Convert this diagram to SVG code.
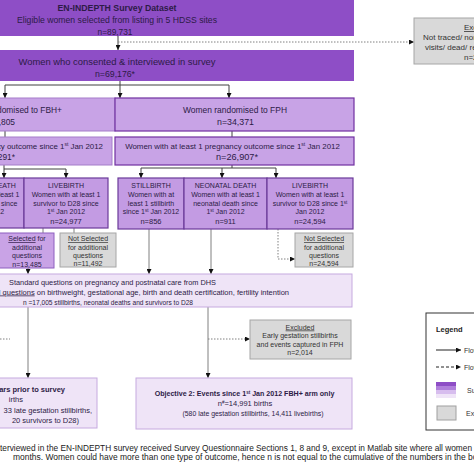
<svg xmlns="http://www.w3.org/2000/svg" width="474" height="474" viewBox="0 0 474 474">
<defs>
<style>
text{font-family:"Liberation Sans",Arial,sans-serif;fill:#2d1b46}
.c{text-anchor:middle}
.e{text-anchor:end}
.b{font-weight:bold}
.dark{fill:#8e4ec6}
.mid{fill:#c8a3e6;stroke:#7030a0;stroke-width:1.2}
.midl{fill:#c8a3e6;stroke:#a57cc9;stroke-width:1}
.sub{fill:#c39be3;stroke:#6b3a99;stroke-width:1.2}
.light{fill:#efe4f7;stroke:#c6aadf;stroke-width:1}
.grey{fill:#d9d9d9;stroke:#a6a6a6;stroke-width:1}
.grey-t{fill:#333}
.f7{font-size:7px}
.f75{font-size:7.5px}
.f79{font-size:7.9px}
.f8{font-size:8px}
.f85{font-size:8.4px}
.f9{font-size:9px}
.ln{fill:none;stroke:#404040;stroke-width:1}
.lg{fill:none;stroke:#808080;stroke-width:1}
.dot{fill:none;stroke:#808080;stroke-width:1;stroke-dasharray:1.5,1.5}
.u{text-decoration:underline}
</style>
<marker id="ah" viewBox="0 0 6 6" refX="6" refY="3" markerWidth="5" markerHeight="5" markerUnits="userSpaceOnUse" orient="auto">
<path d="M0,0 L6,3 L0,6 z" fill="#111"/>
</marker>
</defs>
<rect x="0" y="0" width="474" height="474" fill="#ffffff"/>

<g id="connectors">
<path class="ln" d="M118 36 V50" marker-end="url(#ah)"/>
<path class="dot" d="M118 42 H414" marker-end="url(#ah)"/>
<path class="ln" d="M120 81 V98" marker-end="url(#ah)"/>
<path class="ln" d="M5 85 H229"/>
<path class="ln" d="M5 85 V98" marker-end="url(#ah)"/>
<path class="ln" d="M229 85 V98" marker-end="url(#ah)"/>
<path class="ln" d="M5 131 V137"/>
<path class="ln" d="M232 131 V137"/>
<path class="ln" d="M4 165 V169 H66"/>
<path class="ln" d="M4 169 V178" marker-end="url(#ah)"/>
<path class="ln" d="M66 169 V178" marker-end="url(#ah)"/>
<path class="ln" d="M232 165 V168"/>
<path class="ln" d="M141 168 H276"/>
<path class="ln" d="M141 168 V178" marker-end="url(#ah)"/>
<path class="ln" d="M222 168 V178" marker-end="url(#ah)"/>
<path class="ln" d="M276 168 V178" marker-end="url(#ah)"/>
<path class="lg" d="M43 228 V233"/>
<path class="lg" d="M74 228 V233"/>
<path class="dot" d="M278 229 V259 H295" marker-end="url(#ah)"/>
<path class="lg" d="M28 268 V274" marker-end="url(#ah)"/>
<path class="lg" d="M149 229 V274" marker-end="url(#ah)"/>
<path class="lg" d="M211 229 V274" marker-end="url(#ah)"/>
<path class="lg" d="M28 307 V378" marker-end="url(#ah)"/>
<path class="lg" d="M208 307 V378" marker-end="url(#ah)"/>
<path class="dot" d="M208 339 H250" marker-end="url(#ah)"/>
<path class="dot" d="M0 339 H10"/>
</g>

<g id="dataset">
<rect class="dark" x="-130" y="-4" width="484" height="40"/>
<text class="c b f9" x="117" y="10.5" textLength="119" lengthAdjust="spacingAndGlyphs">EN-INDEPTH Survey Dataset</text>
<text class="c f9" x="117" y="22.5" textLength="200" lengthAdjust="spacingAndGlyphs">Eligible women selected from listing in 5 HDSS sites</text>
<text class="c f9" x="115" y="34.5" textLength="35" lengthAdjust="spacingAndGlyphs">n=89,731</text>
</g>

<g id="excluded-1">
<rect class="grey" x="414" y="18" width="120" height="46"/>
<text class="f8 grey-t u" x="464" y="30">Excluded</text>
<text class="f8 grey-t" x="423" y="40">Not traced/ non-response after 3</text>
<text class="f8 grey-t" x="425" y="50">visits/ dead/ refused</text>
<text class="f8 grey-t" x="464" y="60">n=20,555</text>
</g>

<g id="consented">
<rect class="dark" x="-130" y="50" width="484" height="31"/>
<text class="c f9" x="117" y="64.5" textLength="197" lengthAdjust="spacingAndGlyphs">Women who consented &amp; interviewed in survey</text>
<text class="c f9" x="115" y="76.5" textLength="40" lengthAdjust="spacingAndGlyphs">n=69,176*</text>
</g>

<g id="fbh">
<rect class="midl" x="-130" y="98" width="245" height="33"/>
<text class="e f85" x="62" y="113">Women randomised to FBH+</text>
<text class="e f85" x="15" y="124.5">n=34,805</text>
</g>

<g id="fph">
<rect class="mid" x="115" y="98" width="239" height="33"/>
<text class="c f85" x="235" y="113" textLength="104" lengthAdjust="spacingAndGlyphs">Women randomised to FPH</text>
<text class="c f85" x="235.5" y="124.5" textLength="37" lengthAdjust="spacingAndGlyphs">n=34,371</text>
</g>

<g id="fbh-pregnancy">
<rect class="midl" x="-130" y="137" width="242" height="28"/>
<text class="e f79" x="103" y="149">Women with at least 1 pregnancy outcome since 1<tspan font-size="5" baseline-shift="3">st</tspan> Jan 2012</text>
<text class="e f85" x="15" y="160">291*</text>
</g>

<g id="fph-pregnancy">
<rect class="mid" x="115" y="137" width="239" height="28"/>
<text class="c f79" x="232.5" y="149">Women with at least 1 pregnancy outcome since 1<tspan font-size="5" baseline-shift="3">st</tspan> Jan 2012</text>
<text class="c f85" x="237" y="160" textLength="42" lengthAdjust="spacingAndGlyphs">n=26,907*</text>
</g>

<g id="fbh-neonatal">
<rect class="sub" x="-60" y="178" width="84" height="50"/>
<text class="c f7" x="-15" y="188">NEONATAL DEATH</text>
<text class="c f7" x="-15" y="197">Women with at least 1</text>
<text class="c f7" x="-15" y="205.5">neonatal death since</text>
<text class="c f7" x="-15" y="214">1<tspan font-size="4.5" baseline-shift="2.5">st</tspan> Jan 2012</text>
</g>

<g id="fbh-livebirth">
<rect class="sub" x="24" y="178" width="84" height="50"/>
<text class="c f7" x="66" y="188">LIVEBIRTH</text>
<text class="c f7" x="66" y="197">Women with at least 1</text>
<text class="c f7" x="66" y="205.5">survivor to D28 since</text>
<text class="c f7" x="66" y="214">1<tspan font-size="4.5" baseline-shift="2.5">st</tspan> Jan 2012</text>
<text class="c f75" x="66" y="224">n=24,977</text>
</g>

<g id="fph-stillbirth">
<rect class="sub" x="118" y="178" width="66" height="51"/>
<text class="c f7" x="151" y="188">STILLBIRTH</text>
<text class="c f7" x="151" y="197">Women with at</text>
<text class="c f7" x="151" y="205.5">least 1 stillbirth</text>
<text class="c f7" x="151" y="214">since 1<tspan font-size="4.5" baseline-shift="2.5">st</tspan> Jan 2012</text>
<text class="c f75" x="151" y="224">n=856</text>
</g>

<g id="fph-neonatal">
<rect class="sub" x="184" y="178" width="83" height="51"/>
<text class="c f7" x="225.5" y="188">NEONATAL DEATH</text>
<text class="c f7" x="225.5" y="197">Women with at least 1</text>
<text class="c f7" x="225.5" y="205.5">neonatal death since</text>
<text class="c f7" x="225.5" y="214">1<tspan font-size="4.5" baseline-shift="2.5">st</tspan> Jan 2012</text>
<text class="c f75" x="225.5" y="224">n=911</text>
</g>

<g id="fph-livebirth">
<rect class="sub" x="267" y="178" width="86" height="51"/>
<text class="c f7" x="310" y="188">LIVEBIRTH</text>
<text class="c f7" x="310" y="197">Women with at least 1</text>
<text class="c f7" x="310" y="205.5">survivor to D28 since 1<tspan font-size="4.5" baseline-shift="2.5">st</tspan></text>
<text class="c f7" x="310" y="214">Jan 2012</text>
<text class="c f75" x="310" y="224">n=24,594</text>
</g>

<g id="fbh-selected">
<rect x="-6" y="233" width="60" height="35" fill="#c9a3e6" stroke="#8d5fbf" stroke-width="1"/>
<text class="c f7" x="27" y="241"><tspan class="u">Selected</tspan> for</text>
<text class="c f7" x="27" y="249.5">additional</text>
<text class="c f7" x="27" y="258">questions</text>
<text class="c f7" x="27" y="266.5">n=13,485</text>
</g>

<g id="fbh-not-selected">
<rect class="grey" x="60" y="233" width="56" height="34"/>
<text class="c f7 grey-t" x="88" y="241"><tspan class="u">Not Selected</tspan></text>
<text class="c f7 grey-t" x="88" y="249.5">for additional</text>
<text class="c f7 grey-t" x="88" y="258">questions</text>
<text class="c f7 grey-t" x="88" y="266">n=11,492</text>
</g>

<g id="fph-not-selected">
<rect class="grey" x="295" y="233" width="58" height="34"/>
<text class="c f7 grey-t" x="324" y="241"><tspan class="u">Not Selected</tspan></text>
<text class="c f7 grey-t" x="324" y="249.5">for additional</text>
<text class="c f7 grey-t" x="324" y="258">questions</text>
<text class="c f7 grey-t" x="324" y="266">n=24,594</text>
</g>

<g id="standard-questions">
<rect class="light" x="-130" y="274" width="482" height="33"/>
<text class="c f75" x="112.5" y="284.5" textLength="207" lengthAdjust="spacingAndGlyphs">Standard questions on pregnancy and postnatal care from DHS</text>
<text class="e f75" x="289" y="294.5"><tspan class="u">Additional questions</tspan> on birthweight, gestational age, birth and death certification, fertility intention</text>
<text class="c f75" x="108" y="304.5" textLength="170" lengthAdjust="spacingAndGlyphs">n =17,005 stillbirths, neonatal deaths and survivors to D28</text>
</g>

<g id="excluded-2">
<rect class="grey" x="250" y="320" width="101" height="39"/>
<text class="c f7 grey-t" x="300" y="329.5"><tspan class="u">Excluded</tspan></text>
<text class="c f7 grey-t" x="300" y="338">Early gestation stillbirths</text>
<text class="c f7 grey-t" x="300" y="346.5">and events captured in FPH</text>
<text class="c f7 grey-t" x="300" y="355">n=2,014</text>
</g>

<g id="objective-1">
<rect class="light" x="-130" y="378" width="227" height="50"/>
<text class="e b f75" x="65" y="392">ars prior to survey</text>
<text class="e f75" x="23" y="402">irths</text>
<text class="e f75" x="92" y="413">33 late gestation stillbirths,</text>
<text class="e f75" x="79" y="423">20 survivors to D28)</text>
</g>

<g id="objective-2">
<rect class="light" x="136" y="378" width="216" height="51"/>
<text class="c b" x="244.5" y="396" font-size="7.1">Objective 2: Events since 1<tspan font-size="4.5" baseline-shift="2.5">st</tspan> Jan 2012 FBH+ arm only</text>
<text class="c f75" x="245" y="406">n<tspan font-size="4.5" baseline-shift="2.5">#</tspan>=14,991 births</text>
<text class="c f75" x="253" y="416" textLength="141" lengthAdjust="spacingAndGlyphs">(580 late gestation stillbirths, 14,411 livebirths)</text>
</g>

<g id="legend">
<rect x="426" y="313" width="80" height="117" fill="#ffffff" stroke="#333333" stroke-width="1"/>
<text class="b f75" x="436" y="332" style="fill:#222">Legend</text>
<path d="M436 350 H461" stroke="#222" stroke-width="1" marker-end="url(#ah)"/>
<text class="f7" x="464" y="352.5" style="fill:#333">Flow</text>
<path d="M436 367 H461" stroke="#222" stroke-width="1" stroke-dasharray="3,2" marker-end="url(#ah)"/>
<text class="f7" x="464" y="369.5" style="fill:#333">Flow</text>
<rect x="436" y="382" width="20" height="4" fill="#8e4ec6"/>
<rect x="436" y="386" width="20" height="4" fill="#b07fdb"/>
<rect x="436" y="390" width="20" height="4" fill="#d7bdee"/>
<rect x="436" y="394" width="20" height="4" fill="#efe4f7"/>
<text class="f7" x="467" y="392.5" style="fill:#333">Su</text>
<rect x="437" y="406" width="19" height="14" fill="#d9d9d9" stroke="#a0a0a0" stroke-width="1"/>
<text class="f7" x="466" y="415.5" style="fill:#333">Excluded</text>
</g>

<g id="footnote">
<text class="f85" x="0" y="451" textLength="472" lengthAdjust="spacingAndGlyphs" style="fill:#1a1a1a">terviewed in the EN-INDEPTH survey received Survey Questionnaire Sections 1, 8 and 9, except in Matlab site where all women</text>
<text class="f85" x="13" y="460" textLength="480" lengthAdjust="spacingAndGlyphs" style="fill:#1a1a1a">months. Women could have more than one type of outcome, hence n is not equal to the cumulative of the numbers in the boxes.</text>
</g>
</svg>
